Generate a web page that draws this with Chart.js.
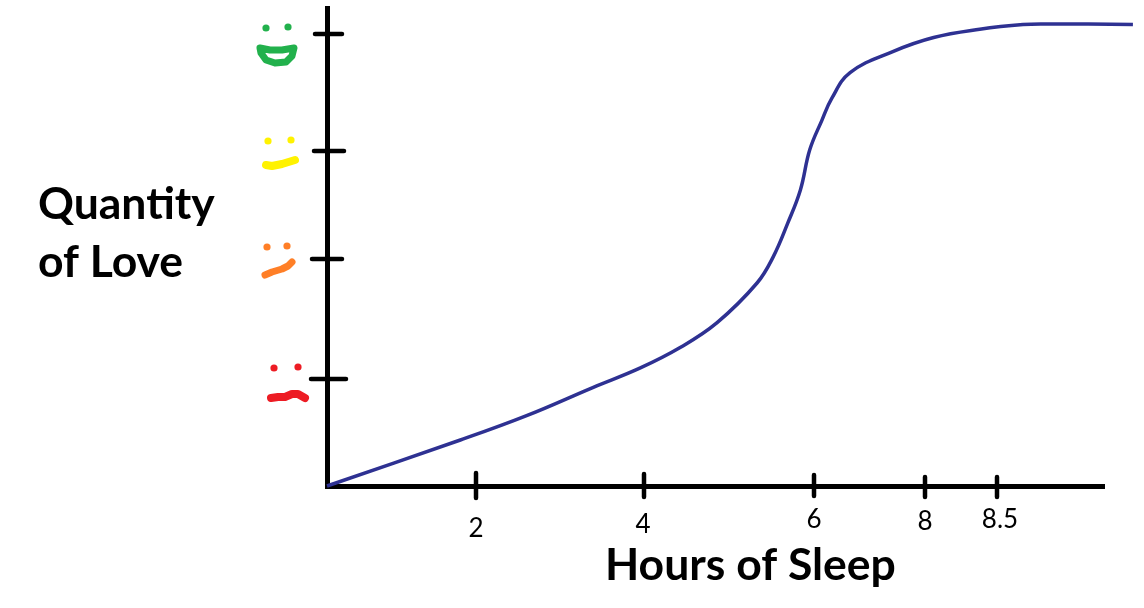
<!DOCTYPE html>
<html>
<head>
<meta charset="utf-8">
<title>Quantity of Love vs Hours of Sleep</title>
<script src="https://cdn.jsdelivr.net/npm/chart.js@4/dist/chart.umd.js"></script>
<style>
  html, body { margin: 0; background: #fff; }
  canvas { display: block; }
</style>
</head>
<body>
<canvas id="chart" width="1144" height="608"></canvas>
<script>
/* ---- Data ---- */
const hours = [0, 1.79, 2.61, 3.39, 3.95, 4.42, 4.86, 5.33, 5.52, 5.69, 5.84, 5.95, 6.14, 6.32, 6.65, 7.42, 8.06, 8.38, 8.68, 8.85, 9.13, 9.44];
const love = [0, 0.43, 0.66, 0.92, 1.09, 1.26, 1.47, 1.8, 2.02, 2.33, 2.64, 3.01, 3.26, 3.45, 3.67, 3.85, 3.97, 4.04, 4.08, 4.085, 4.085, 4.08];
const hourTicks = [2, 4, 6, 8, 8.5];
const loveTicks = [1, 2, 3, 4];

/* ---- The hand-drawn axes are not evenly spaced ---- */
const X_KNOTS = [0, 2, 4, 6, 8, 8.5, 9.24];
const X_STOPS = [0, 149, 317, 487, 598, 670, 777];
const Y_KNOTS = [0, 1, 2, 3, 4, 4.22];
const Y_STOPS = [0, 107, 227, 335, 452, 478];

const TICK_LABEL_SHIFT = [[0, 7], [-1, 3], [0, -2], [0, 0], [3, -2]];
const X_TICK_REACH = [[-13, 12], [-12, 11], [-11, 10], [-9, 11], [-9, 11]];
const Y_TICK_REACH = [[-16, 19], [-15, 15], [-13, 17], [-12, 15]];

const FACES = [
  { level: 4, color: '#22b14c', width: 7, closed: true, eyes: [[266, -6], [288, -7]],
    mouth: [[260, 14], [270, 16], [282, 16], [294, 14], [292, 22], [286, 28], [275, 29], [266, 26], [261, 19]] },
  { level: 3, color: '#fff200', width: 8, eyes: [[268, -10], [291, -11]],
    mouth: [[266, 14], [272, 15], [282, 13], [295, 9]] },
  { level: 2, color: '#ff7f27', width: 7, eyes: [[267, -12], [287, -13]],
    mouth: [[265, 16], [272, 13], [282, 10], [288, 7], [292, 3]] },
  { level: 1, color: '#ed1c24', width: 8, eyes: [[274, -11], [298, -12]],
    mouth: [[271, 19], [278, 18], [285, 18], [292, 15], [298, 15], [305, 19]] },
];

/* ---- Piecewise linear scale ---- */
class WarpedScale extends Chart.LinearScale {
  getPixelForValue(value) {
    const { knots, stops } = this.options;
    let i = 0;
    while (i < knots.length - 2 && value > knots[i + 1]) i++;
    const t = (value - knots[i]) / (knots[i + 1] - knots[i]);
    const offset = stops[i] + t * (stops[i + 1] - stops[i]);
    return this.isHorizontal() ? this.left + offset : this.bottom - offset;
  }

  _computeLabelItems(chartArea) {
    const items = super._computeLabelItems(chartArea);
    const shift = this.options.labelShift;
    if (shift) {
      items.forEach((item, i) => {
        item.options.translation[0] += shift[i][0];
        item.options.translation[1] += shift[i][1];
      });
    }
    return items;
  }
}
WarpedScale.id = 'warped';
WarpedScale.defaults = Chart.LinearScale.defaults;
Chart.register(WarpedScale);

/* ---- Tick marks cross the axis lines, with round ends ---- */
const crossTicks = {
  id: 'crossTicks',
  afterDatasetsDraw(chart) {
    const { ctx, scales: { x, y } } = chart;
    ctx.save();
    ctx.strokeStyle = '#000';
    ctx.lineWidth = 4.5;
    ctx.lineCap = 'round';
    x.ticks.forEach((tick, i) => {
      const px = x.getPixelForTick(i);
      ctx.beginPath();
      ctx.moveTo(px, y.bottom + X_TICK_REACH[i][0]);
      ctx.lineTo(px, y.bottom + X_TICK_REACH[i][1]);
      ctx.stroke();
    });
    y.ticks.forEach((tick, i) => {
      const py = y.getPixelForTick(i);
      ctx.beginPath();
      ctx.moveTo(x.left + Y_TICK_REACH[i][0], py);
      ctx.lineTo(x.left + Y_TICK_REACH[i][1], py);
      ctx.stroke();
    });
    ctx.restore();
  },
};

/* ---- Painted smileys next to the love levels ---- */
const faces = {
  id: 'faces',
  afterDraw(chart) {
    const { ctx, scales: { y } } = chart;
    ctx.save();
    ctx.lineCap = 'round';
    ctx.lineJoin = 'round';
    FACES.forEach((face) => {
      const base = y.getPixelForValue(face.level);
      ctx.fillStyle = face.color;
      ctx.strokeStyle = face.color;
      face.eyes.forEach(([ex, dy]) => {
        ctx.beginPath();
        ctx.arc(ex, base + dy, 3.6, 0, Math.PI * 2);
        ctx.fill();
      });
      ctx.lineWidth = face.width;
      ctx.beginPath();
      face.mouth.forEach(([mx, dy], i) => {
        if (i === 0) ctx.moveTo(mx, base + dy);
        else ctx.lineTo(mx, base + dy);
      });
      if (face.closed) ctx.closePath();
      ctx.stroke();
    });
    ctx.restore();
  },
};

/* ---- Axis captions sit where they were typed ---- */
const captions = {
  id: 'captions',
  afterDraw(chart) {
    const { ctx } = chart;
    ctx.save();
    ctx.fillStyle = '#000';
    ctx.font = 'bold 44.5px Lato';
    ctx.textBaseline = 'alphabetic';
    ctx.fillText('Quantity', 38, 219);
    ctx.fillText('of Love', 38, 277);
    ctx.fillText('Hours of Sleep', 605, 580);
    ctx.restore();
  },
};

new Chart(document.getElementById('chart'), {
  type: 'line',
  data: {
    datasets: [{
      data: hours.map((h, i) => ({ x: h, y: love[i] })),
      borderColor: '#2e3192',
      borderWidth: 3.5,
      pointRadius: 0,
      tension: 0.4,
      clip: false,
    }],
  },
  options: {
    responsive: false,
    animation: false,
    layout: { padding: { left: 327, right: 40, top: 8, bottom: 0 } },
    plugins: { legend: { display: false }, tooltip: { enabled: false } },
    scales: {
      x: {
        type: 'warped',
        knots: X_KNOTS,
        stops: X_STOPS,
        labelShift: TICK_LABEL_SHIFT,
        min: 0,
        max: 9.24,
        afterBuildTicks(scale) { scale.ticks = hourTicks.map((value) => ({ value })); },
        afterFit(scale) { scale.height = 122; },
        grid: { drawOnChartArea: false, drawTicks: false },
        border: { color: '#000', width: 5 },
        ticks: {
          autoSkip: false,
          maxRotation: 0,
          padding: 20,
          color: '#000',
          font: { family: 'Lato', size: 26 },
          callback: (value) => String(value),
        },
      },
      y: {
        type: 'warped',
        knots: Y_KNOTS,
        stops: Y_STOPS,
        min: 0,
        max: 4.22,
        afterBuildTicks(scale) { scale.ticks = loveTicks.map((value) => ({ value })); },
        afterFit(scale) { scale.width = 0; },
        grid: { drawOnChartArea: false, drawTicks: false },
        border: { color: '#000', width: 5 },
        ticks: { display: false },
      },
    },
  },
  plugins: [crossTicks, faces, captions],
});
</script>
</body>
</html>
